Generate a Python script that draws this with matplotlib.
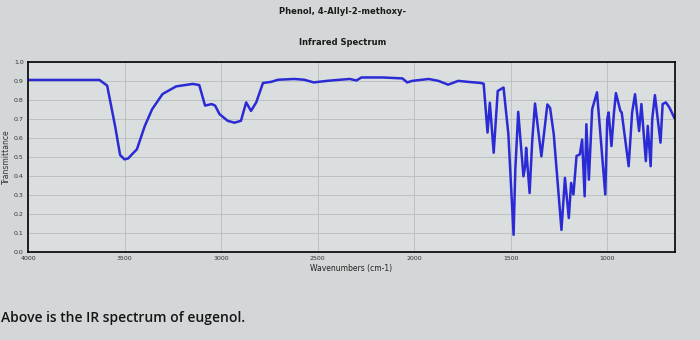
import numpy as np
import matplotlib
matplotlib.use("Agg")
import matplotlib.pyplot as plt

# IR spectrum of eugenol (Phenol, 4-allyl-2-methoxy-)
wavenumber = [4000, 3800, 3630, 3590, 3549, 3523, 3500, 3481, 3462, 3436,
              3395, 3357, 3303, 3233, 3147, 3113, 3083, 3049, 3031, 3008,
              2966, 2931, 2897, 2870, 2845, 2818, 2783, 2740, 2705, 2621,
              2570, 2520, 2452, 2384, 2333, 2299, 2273, 2163, 2061, 2036,
              2010, 1925, 1874, 1824, 1772, 1722, 1655, 1640, 1620, 1608,
              1588, 1567, 1537, 1512, 1485, 1476, 1461, 1434, 1425, 1420,
              1402, 1388, 1374, 1341, 1310, 1296, 1277, 1237, 1219, 1199,
              1187, 1175, 1159, 1142, 1130, 1117, 1108, 1095, 1078, 1053,
              1010, 1000, 993, 978, 965, 955, 932, 925, 889, 871,
              856, 835, 823, 800, 790, 775, 767, 753, 724, 713,
              696, 678, 653]
transmittance = [0.905, 0.905, 0.905, 0.875, 0.663, 0.51, 0.487, 0.492, 0.513, 0.54,
                 0.663, 0.751, 0.831, 0.871, 0.884, 0.878, 0.77, 0.778, 0.77, 0.725,
                 0.69, 0.68, 0.69, 0.787, 0.742, 0.787, 0.889, 0.895, 0.906, 0.91,
                 0.906, 0.892, 0.90, 0.906, 0.91, 0.902, 0.918, 0.918, 0.913, 0.892,
                 0.90, 0.91, 0.90, 0.88, 0.90, 0.895, 0.889, 0.885, 0.628, 0.785,
                 0.522, 0.847, 0.865, 0.62, 0.09, 0.434, 0.737, 0.398, 0.451, 0.548,
                 0.31, 0.593, 0.781, 0.503, 0.776, 0.758, 0.62, 0.116, 0.39, 0.178,
                 0.363, 0.302, 0.505, 0.513, 0.591, 0.293, 0.672, 0.38, 0.751, 0.84,
                 0.302, 0.698, 0.734, 0.557, 0.734, 0.836, 0.742, 0.734, 0.451, 0.734,
                 0.83, 0.636, 0.778, 0.478, 0.663, 0.451, 0.698, 0.825, 0.575, 0.778,
                 0.787, 0.76, 0.707]
x_ticks = [4000, 3500, 3000, 2500, 2000, 1500, 1000]
y_ticks = [0.0, 0.1, 0.2, 0.3, 0.4, 0.5, 0.6, 0.7, 0.8, 0.9, 1.0]

BG = "#d3d7d7"
LINE = "#2b2bd6"

fig = plt.figure(figsize=(7, 3.4), dpi=100, facecolor=BG)
ax = fig.add_axes([0.04, 0.259, 0.924, 0.559], facecolor="#dadede")

ax.plot(wavenumber, transmittance, color=LINE, lw=1.8, solid_joinstyle="round")
ax.set_xlim(4000, 650)
ax.set_ylim(0, 1.0)
ax.set_xticks(x_ticks)
ax.set_yticks(y_ticks)
ax.set_yticklabels([f"{v:.1f}" for v in y_ticks])
ax.tick_params(labelsize=4.5, colors="#333333", length=0, pad=3)
ax.grid(True, color="#b8bcbc", lw=0.6)
for s in ax.spines.values():
    s.set_color("black")
    s.set_linewidth(1.2)

ax.set_xlabel("Wavenumbers (cm-1)", fontsize=5.5, color="#222222", labelpad=2)
ax.set_ylabel("Transmittance", fontsize=5.5, color="#333333", labelpad=2)

fig.text(0.49, 0.965, "Phenol, 4-Allyl-2-methoxy-", ha="center", va="center",
         fontsize=6, color="#1a1a1a", fontweight="semibold")
fig.text(0.49, 0.875, "Infrared Spectrum", ha="center", va="center",
         fontsize=6, color="#1a1a1a", fontweight="semibold")
fig.text(0.002, 0.065, "Above is the IR spectrum of eugenol.", ha="left", va="center",
         fontsize=10, color="#151515", family="Open Sans", fontweight="semibold")

fig.savefig("out.png", dpi=100, facecolor=BG)
